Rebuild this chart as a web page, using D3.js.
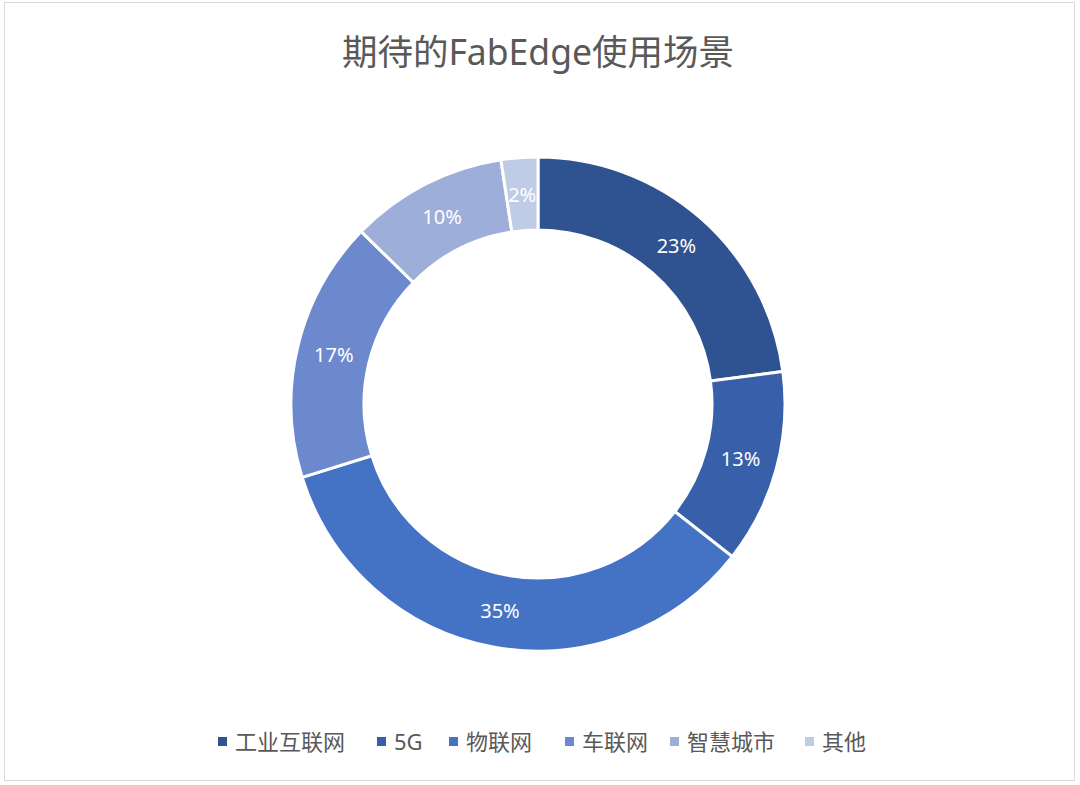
<!DOCTYPE html>
<html>
<head>
<meta charset="utf-8">
<script src="https://cdn.jsdelivr.net/npm/d3@7"></script>
<style>
  body { margin: 0; background: #fff; }
  text { font-family: "Noto Sans", "Noto Sans CJK SC", sans-serif; }
</style>
</head>
<body>
<div id="chart"></div>
<script>
// chart data (shares, labels rounded)
var title = "期待的FabEdge使用场景";
var categories = ["工业互联网", "5G", "物联网", "车联网", "智慧城市", "其他"];
var values = [22.9, 12.7, 34.6, 17.1, 10.3, 2.4];
var labels = ["23%", "13%", "35%", "17%", "10%", "2%"];
var colors = ["#2F5290", "#3860AA", "#4472C4", "#6D89CD", "#9DAED9", "#C0CBE6"];

var width = 1080;
var height = 785;
var cx = 538, cy = 404;
var outerR = 247, innerR = 174;

var svg = d3.select("#chart").append("svg")
	.attr("width", width)
	.attr("height", height);

// chart border
svg.append("rect")
	.attr("x", 4.5).attr("y", 2.5)
	.attr("width", 1070).attr("height", 778)
	.attr("fill", "#fff")
	.attr("stroke", "#D9D9D9")
	.attr("stroke-width", 1);

svg.append("text")
	.attr("x", 538).attr("y", 65)
	.attr("text-anchor", "middle")
	.style("font-size", "35.5px")
	.style("fill", "#595959")
	.text(title);

var data = categories.map(function(c, i) { return {name: c, value: values[i], label: labels[i], color: colors[i]}; });

var pie = d3.pie().sort(null).value(function(d) { return d.value; });
var arc = d3.arc().innerRadius(innerR).outerRadius(outerR);
var labelArc = d3.arc().innerRadius(210).outerRadius(210);

var g = svg.append("g").attr("transform", "translate(" + cx + "," + cy + ")");
var arcs = pie(data);

g.selectAll("path").data(arcs).enter().append("path")
	.attr("d", arc)
	.attr("fill", function(d) { return d.data.color; })
	.attr("stroke", "#fff")
	.attr("stroke-width", 3);

g.selectAll("text.lbl").data(arcs).enter().append("text")
	.attr("class", "lbl")
	.attr("transform", function(d) { return "translate(" + labelArc.centroid(d) + ")"; })
	.attr("text-anchor", "middle")
	.attr("dy", "0.35em")
	.style("font-size", "20px")
	.style("fill", "#fff")
	.text(function(d) { return d.data.label; });

// legend
var legendX = [218, 377, 449, 565, 670, 805];
var legend = svg.append("g");
data.forEach(function(d, i)
{
	legend.append("rect")
		.attr("x", legendX[i]).attr("y", 737)
		.attr("width", 9).attr("height", 9)
		.attr("fill", d.color);
	legend.append("text")
		.attr("x", legendX[i] + 17).attr("y", 750)
		.style("font-size", "22px")
		.style("fill", "#595959")
		.text(d.name);
});
</script>
</body>
</html>
